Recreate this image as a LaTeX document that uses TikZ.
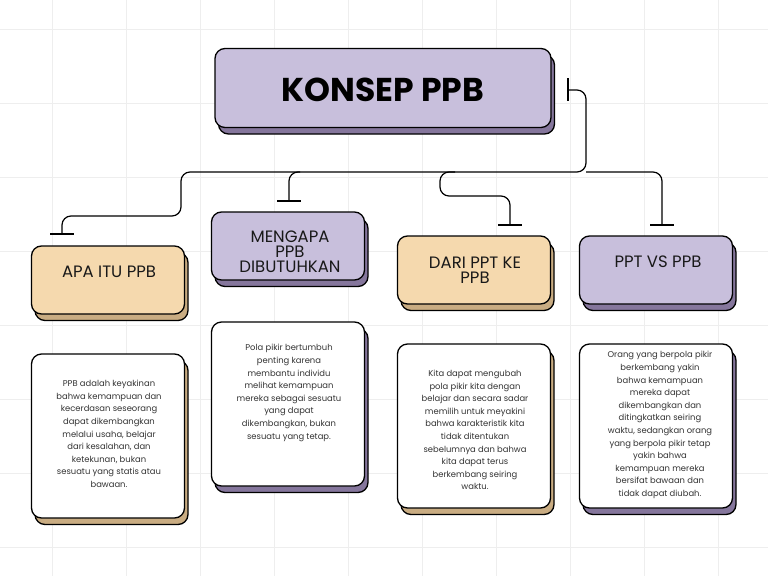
\documentclass[tikz,border=0pt]{standalone}
\usepackage{fontspec}
\setmainfont{Poppins}
\usetikzlibrary{shadows}
\definecolor{peach}{HTML}{F5D9AE}
\definecolor{peachsh}{HTML}{C9AC82}
\definecolor{lav}{HTML}{C8BFDC}
\definecolor{lavsh}{HTML}{85769C}
\definecolor{gridc}{HTML}{EEEEEE}
\definecolor{txt}{HTML}{333333}
\tikzset{
  boxbase/.style={draw=black, line width=1.3pt, rounded corners=10pt, inner sep=0pt},
  pbox/.style={boxbase, fill=peach, drop shadow={shadow xshift=3.5pt, shadow yshift=-6.5pt, fill=peachsh, draw=black, opacity=1, line width=1.3pt}},
  lbox/.style={boxbase, fill=lav, drop shadow={shadow xshift=3.5pt, shadow yshift=-6.5pt, fill=lavsh, draw=black, opacity=1, line width=1.3pt}},
  wpbox/.style={boxbase, fill=white, drop shadow={shadow xshift=3.5pt, shadow yshift=-6.5pt, fill=peachsh, draw=black, opacity=1, line width=1.3pt}},
  wlbox/.style={boxbase, fill=white, drop shadow={shadow xshift=3.5pt, shadow yshift=-6.5pt, fill=lavsh, draw=black, opacity=1, line width=1.3pt}},
  head/.style={align=center, font=\fontsize{16.5}{15}\selectfont, text=black!90},
  body/.style={align=center, font=\fontsize{8.4}{12.6}\selectfont, text=txt},
  conn/.style={line width=1.2pt, rounded corners=9pt},
  tbar/.style={line width=1.2pt}
}
\begin{document}
\begin{tikzpicture}[x=1pt,y=-1pt]
\useasboundingbox (0,0) rectangle (768,576);
\fill[white] (0,0) rectangle (768,576);
\foreach \x in {52,126,...,768} \draw[gridc] (\x,0) -- (\x,576);
\foreach \y in {29,103,...,576} \draw[gridc] (0,\y) -- (768,\y);

% title
\node[lbox, minimum width=336pt, minimum height=79pt] (title) at (383,88) {};
\node[font=\fontsize{33}{33}\selectfont\bfseries] (tt) at (383,90) {KONSEP PPB};

% headers
\node[pbox, minimum width=153pt, minimum height=68pt] (h1) at (108,280) {};
\node[head] (h1t) at (109,272) {APA ITU PPB};
\node[lbox, minimum width=153pt, minimum height=68pt] (h2) at (288,246) {};
\node[head] (h2t) at (290,252) {MENGAPA\\PPB\\DIBUTUHKAN};
\node[pbox, minimum width=153pt, minimum height=68pt] (h3) at (474,270) {};
\node[head] (h3t) at (475,270) {DARI PPT KE\\PPB};
\node[lbox, minimum width=153pt, minimum height=68pt] (h4) at (656,270) {};
\node[head] (h4t) at (658,262) {PPT VS PPB};

% body boxes
\node[wpbox, minimum width=153pt, minimum height=164pt] (b1) at (108,436) {};
\node[body] (b1t) at (109,434) {PPB adalah keyakinan\\bahwa kemampuan dan\\kecerdasan seseorang\\dapat dikembangkan\\melalui usaha, belajar\\dari kesalahan, dan\\ketekunan, bukan\\sesuatu yang statis atau\\bawaan.};
\node[wlbox, minimum width=153pt, minimum height=164pt] (b2) at (288,404) {};
\node[body] (b2t) at (289,393) {Pola pikir bertumbuh\\penting karena\\membantu individu\\melihat kemampuan\\mereka sebagai sesuatu\\yang dapat\\dikembangkan, bukan\\sesuatu yang tetap.};
\node[wpbox, minimum width=153pt, minimum height=164pt] (b3) at (474,426) {};
\node[body] (b3t) at (475,430) {Kita dapat mengubah\\pola pikir kita dengan\\belajar dan secara sadar\\memilih untuk meyakini\\bahwa karakteristik kita\\tidak ditentukan\\sebelumnya dan bahwa\\kita dapat terus\\berkembang seiring\\waktu.};
\node[wlbox, minimum width=153pt, minimum height=164pt] (b4) at (656,426) {};
\node[body] (b4t) at (660,425) {Orang yang berpola pikir\\berkembang yakin\\bahwa kemampuan\\mereka dapat\\dikembangkan dan\\ditingkatkan seiring\\waktu, sedangkan orang\\yang berpola pikir tetap\\yakin bahwa\\kemampuan mereka\\bersifat bawaan dan\\tidak dapat diubah.};

% connectors
\coordinate (s) at (568,90);
\draw[tbar] (568,78) -- (568,101);
\draw[conn] (s) -- (586,90) -- (586,172) -- (181,172) -- (181,216) -- (62,216) -- (62,234);
\draw[tbar] (50,234) -- (74,234);
\draw[conn] (586,172) -- (662,172) -- (662,225);
\draw[tbar] (650,225) -- (674,225);
\draw[conn] (300,172) -- (289,172) -- (289,201);
\draw[tbar] (277,201) -- (301,201);
\draw[conn] (455,172) -- (440,172) -- (440,196) -- (510,196) -- (510,225);
\draw[tbar] (498,225) -- (522,225);
\end{tikzpicture}
\end{document}
